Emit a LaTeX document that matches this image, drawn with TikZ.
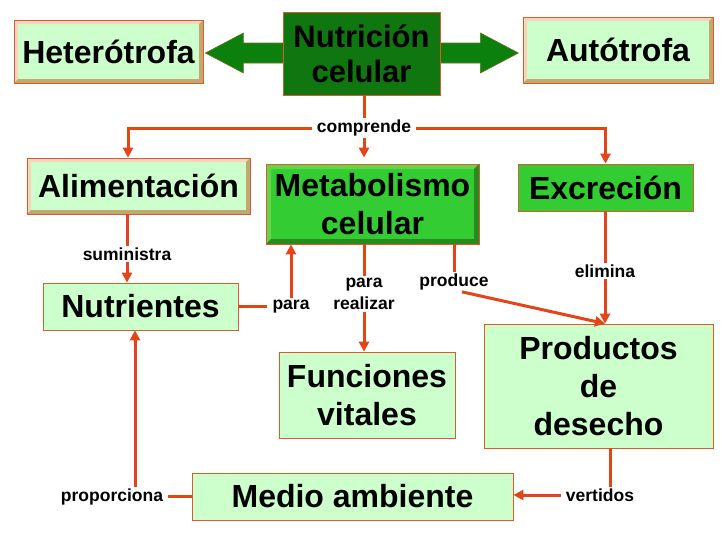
\documentclass[tikz,border=0pt]{standalone}
\usepackage{fontspec}
\setmainfont{Liberation Sans}
\usetikzlibrary{arrows.meta}
\definecolor{boxline}{RGB}{218,92,42}
\definecolor{linkred}{RGB}{228,68,22}
\definecolor{paleg}{RGB}{204,255,204}
\definecolor{midg}{RGB}{51,204,51}
\definecolor{darkg}{RGB}{16,118,16}
\definecolor{arrowg}{RGB}{12,128,12}
\definecolor{bevlight}{RGB}{244,214,188}
\definecolor{bevdark}{RGB}{192,168,112}
\definecolor{gbevlight}{RGB}{96,214,72}
\definecolor{gbevdark}{RGB}{38,140,30}
\newcommand{\boxfont}{\fontsize{32}{38}\selectfont\bfseries}
\newcommand{\lblfont}{\fontsize{17.5}{22}\selectfont\bfseries}
\tikzset{
  box/.style={draw=boxline, line width=0.8pt, fill=paleg, inner sep=0pt, align=center, font=\boxfont},
  bevel/.style n args={3}{path picture={
      \fill[#1] (path picture bounding box.south west) -- (path picture bounding box.north west)
        -- (path picture bounding box.north east) -- ([xshift=-#3,yshift=-#3]path picture bounding box.north east)
        -- ([xshift=#3,yshift=-#3]path picture bounding box.north west) -- ([xshift=#3,yshift=#3]path picture bounding box.south west) -- cycle;
      \fill[#2] (path picture bounding box.south west) -- (path picture bounding box.south east)
        -- (path picture bounding box.north east) -- ([xshift=-#3,yshift=-#3]path picture bounding box.north east)
        -- ([xshift=-#3,yshift=#3]path picture bounding box.south east) -- ([xshift=#3,yshift=#3]path picture bounding box.south west) -- cycle;
    }},
  lbl/.style={font=\lblfont, inner xsep=5pt, inner ysep=1.5pt, align=center},
  link/.style={draw=linkred, line width=3pt},
  arr/.style={link, -{Triangle[length=10pt,width=10pt]}},
}
\begin{document}
\begin{tikzpicture}[x=1pt,y=-1pt]
\fill[white] (0,0) rectangle (728,546);
\useasboundingbox (0,0) rectangle (728,546);
% top row
\node[box,bevel={bevlight}{bevdark}{4pt},minimum width=189pt,minimum height=63pt] (het) at (108.5,51.5) {Heterótrofa};
\node[box,bevel={bevlight}{bevdark}{4pt},minimum width=190pt,minimum height=66pt] (aut) at (618,50) {Autótrofa};
% double block arrow behind the centre box
\coordinate (ltip) at ([xshift=2pt,yshift=-1.5pt]het.east);
\filldraw[fill=arrowg, draw=boxline!45!arrowg, line width=0.6pt] (ltip) -- ++(38,-20) -- ++(0,10) -- ++(237,0) -- ++(0,-10)
  -- ++(38,20) -- ++(-38,20) -- ++(0,-10) -- ++(-237,0) -- ++(0,10) -- cycle;
\node[box,fill=darkg,minimum width=157pt,minimum height=83pt,font=\fontsize{31}{35}\selectfont\bfseries] (nut) at (361.5,53.5) {Nutrición\\celular};
% second row
\node[lbl] (comp) at (364,128) {comprende};
\node[box,bevel={bevlight}{bevdark}{4pt},minimum width=223pt,minimum height=56pt] (ali) at (138.5,186) {Alimentación};
\node[box,fill=midg,bevel={gbevlight}{gbevdark}{5pt},minimum width=213pt,minimum height=80pt] (met) at (372.5,204) {Metabolismo\\celular};
\node[box,fill=midg,minimum width=175pt,minimum height=47pt] (exc) at (605.5,187.5) {Excreción};
% lower boxes
\node[box,minimum width=195pt,minimum height=47pt] (nutr) at (140.5,306.5) {Nutrientes};
\node[box,minimum width=176pt,minimum height=86pt] (fun) at (367,395) {Funciones\\vitales};
\node[box,minimum width=229pt,minimum height=124pt] (pro) at (598.5,386) {Productos\\de\\desecho};
\node[box,minimum width=321pt,minimum height=47pt] (med) at (352.5,496.5) {Medio ambiente};
% labels
\node[lbl] (sum) at (127,254) {suministra};
\node[lbl] (para1) at (291,306.5) {para};
\node[lbl] (pr) at (364,294) {para\\realizar};
\node[lbl] (prod) at (454,282) {produce};
\node[lbl] (elim) at (605,271) {elimina};
\node[lbl] (vert) at (600,495) {vertidos};
\node[lbl] (prop) at (112,496.5) {proporciona};
% connectors
\draw[link] (nut.south -| comp) -- (comp.north);
\draw[arr,shorten >=6pt] (comp.south) -- (comp |- met.north);
\draw[arr] (comp.west) -| ([xshift=-10.5pt]ali.north);
\draw[arr] (comp.east) -| (exc.north);
\draw[link] ([xshift=-11.5pt]ali.south) -- (sum.north);
\draw[arr] (sum.south) -- (sum |- nutr.north);
\draw[link] (nutr.east) -- (para1.west);
\draw[arr] (para1.north) -- (para1 |- met.south);
\draw[link] (met.south -| pr) -- (pr.north);
\draw[arr] (pr.south) -- (pr |- fun.north);
\draw[link] (met.south -| prod) -- (prod.north);
\draw[arr] ([xshift=8pt]prod.south) -- (elim |- pro.north);
\draw[link] (exc.south -| elim) -- (elim.north);
\draw[arr] (elim.south) -- (elim |- pro.north);
\draw[link] ([xshift=11.5pt]pro.south) -- ([xshift=10pt]vert.north);
\draw[arr] (vert.west) -- (vert.west -| med.east);
\draw[link] (med.west) -- (prop.east);
\coordinate (propup) at ([xshift=23pt]prop.north);
\draw[arr] (propup) -- (propup |- nutr.south);
\end{tikzpicture}
\end{document}
